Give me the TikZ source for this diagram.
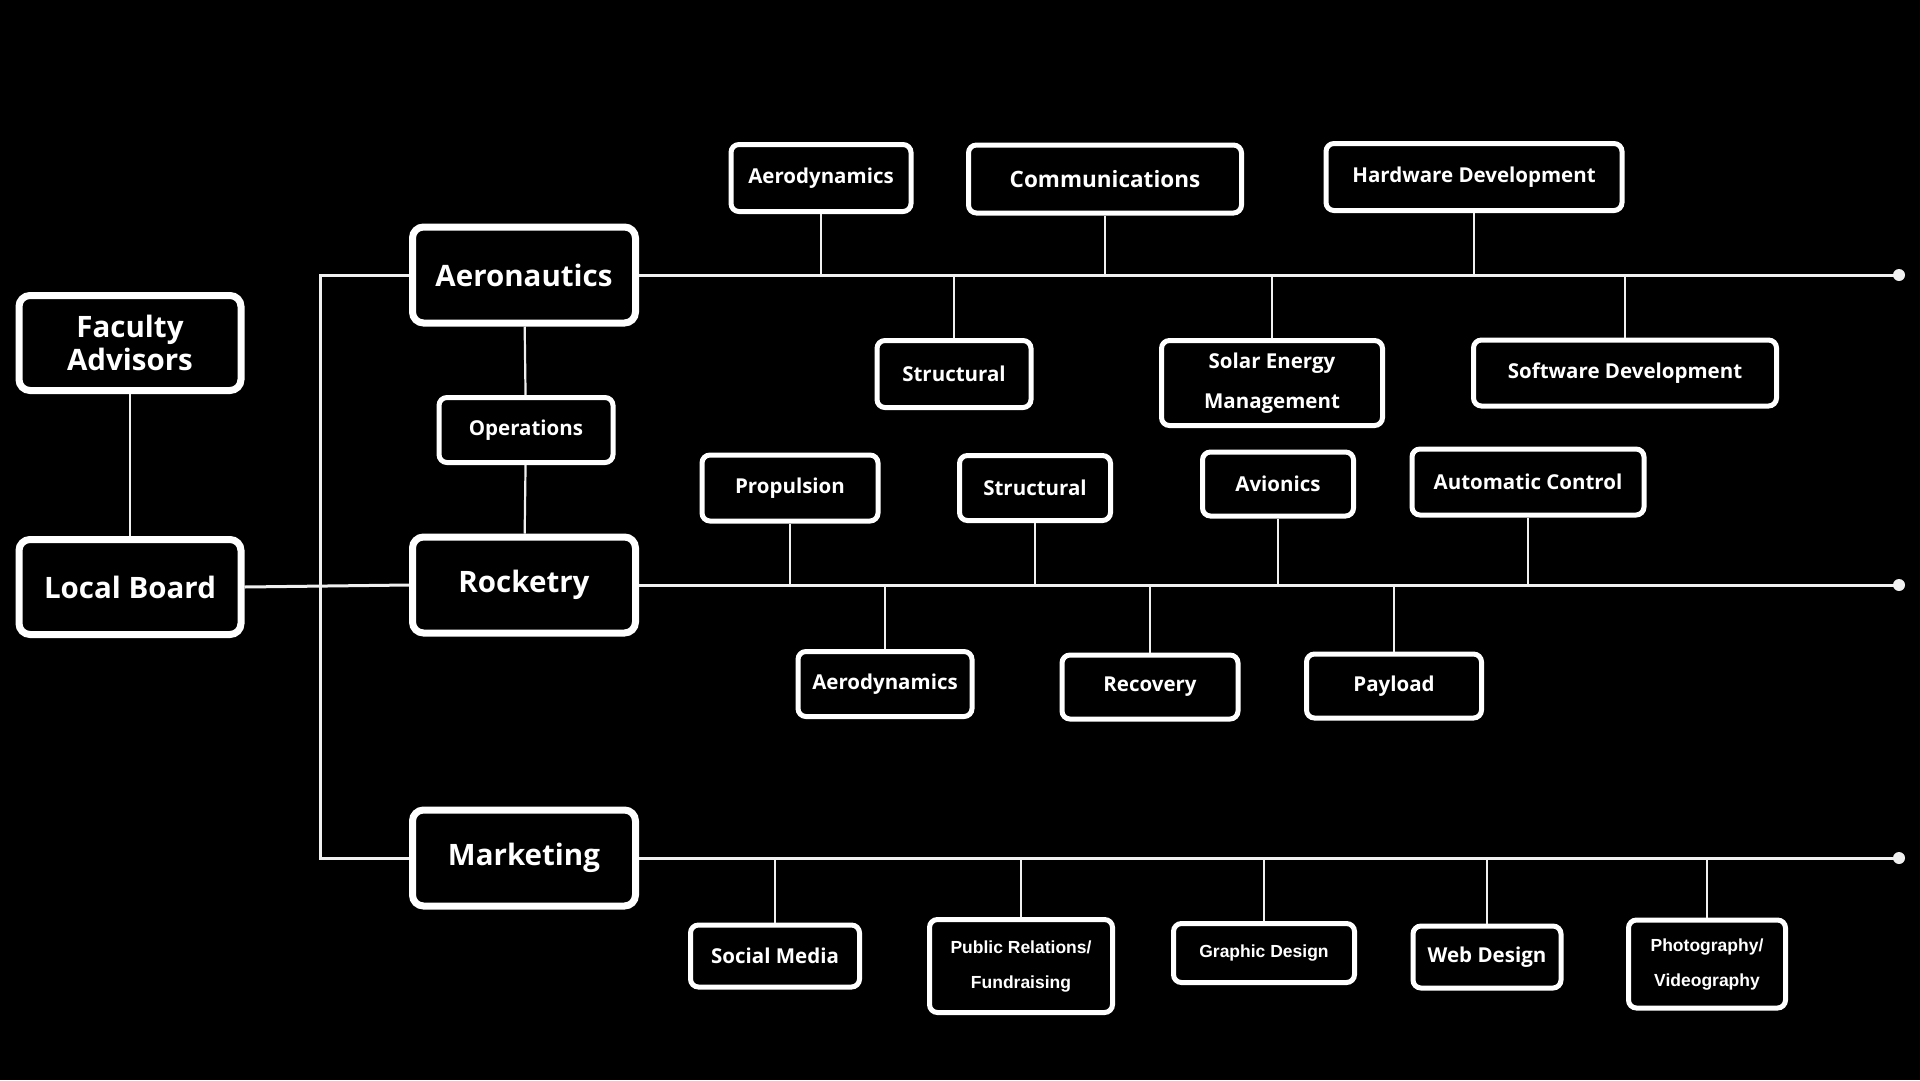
\documentclass[tikz,border=0pt]{standalone}
\usepackage{fontspec}
\setmainfont{Open Sans}
\newfontfamily\arialfont{Liberation Sans}
\usetikzlibrary{positioning,calc}
\definecolor{inkline}{RGB}{240,240,240}
\tikzset{
  unit/.style={draw=white,fill=black,text=white,line width=7pt,rounded corners=11pt,
               inner sep=0pt,align=center,font=\bfseries\fontsize{29.5}{33}\selectfont},
  sub/.style={draw=white,fill=black,text=white,line width=5pt,rounded corners=8pt,
              inner sep=0pt,align=center,font=\bfseries\fontsize{20.5}{40}\selectfont},
  subA/.style={sub,font=\arialfont\bfseries\fontsize{17.5}{35}\selectfont},
  bus/.style={draw=inkline,line width=3pt},
  stem/.style={draw=inkline,line width=2.2pt},
}
\begin{document}
\begin{tikzpicture}[x=1pt,y=-1pt]
  \fill[black] (0,0) rectangle (1920,1080);
  % ---------------- leadership ----------------
  \node[unit,minimum width=222,minimum height=95] (faculty) at (130,343) {Faculty\\Advisors};
  \node[unit,minimum width=222,minimum height=95] (board)   at (130,587) {Local Board};
  % ---------------- divisions ----------------
  \node[unit,minimum width=223,minimum height=96] (aero) at (524,275) {Aeronautics};
  \node[sub,minimum width=174,minimum height=65]  (ops)  at (526,430) {Operations};
  \node[unit,minimum width=223,minimum height=96] (rock) at (524,585) {Rocketry};
  \node[unit,minimum width=223,minimum height=96] (mkt)  at (524,858) {Marketing};
  % ---------------- aeronautics teams ----------------
  \node[sub,minimum width=180,minimum height=67] (aeroDyn)  at (821,178)  {Aerodynamics};
  \node[sub,minimum width=273,minimum height=68,font=\bfseries\fontsize{22.5}{26}\selectfont]
                                                 (aeroComm) at (1105,179) {Communications};
  \node[sub,minimum width=296,minimum height=67] (aeroHw)   at (1474,177) {Hardware Development};
  \node[sub,minimum width=154,minimum height=67] (aeroStr)  at (954,374)  {Structural};
  \node[sub,minimum width=221,minimum height=85] (aeroSol)  at (1272,383) {Solar Energy\\Management};
  \node[sub,minimum width=303,minimum height=66] (aeroSw)   at (1625,373) {Software Development};
  % ---------------- rocketry teams ----------------
  \node[sub,minimum width=176,minimum height=66] (rockProp) at (790,488)  {Propulsion};
  \node[sub,minimum width=151,minimum height=65] (rockStr)  at (1035,488) {Structural};
  \node[sub,minimum width=151,minimum height=64] (rockAvi)  at (1278,484) {Avionics};
  \node[sub,minimum width=232,minimum height=66] (rockCtl)  at (1528,482) {Automatic Control};
  \node[sub,minimum width=174,minimum height=65] (rockDyn)  at (885,684)  {Aerodynamics};
  \node[sub,minimum width=176,minimum height=64] (rockRec)  at (1150,687) {Recovery};
  \node[sub,minimum width=175,minimum height=64] (rockPay)  at (1394,686) {Payload};
  % ---------------- marketing teams ----------------
  \node[sub,minimum width=169,minimum height=62]  (mktSoc)   at (775,956)  {Social Media};
  \node[subA,minimum width=183,minimum height=93] (mktPr)    at (1021,966) {Public Relations/\\Fundraising};
  \node[subA,minimum width=181,minimum height=59] (mktGfx)   at (1264,953) {Graphic Design};
  \node[sub,minimum width=148,minimum height=62]  (mktWeb)   at (1487,957) {Web Design};
  \node[subA,minimum width=157,minimum height=88] (mktPhoto) at (1707,964) {Photography/\\Videography};
  % ---------------- bus ends ----------------
  \coordinate (aeroEnd) at (1899,275);
  \coordinate (rockEnd) at (1899,585);
  \coordinate (mktEnd)  at (1899,858);
  \coordinate (spineTop) at (320,275);
  \coordinate (spineBot) at (320,858);
  % ---------------- trunk ----------------
  \draw[stem] (faculty) -- (board);
  \draw[bus] (board.east) -- (rock.west);
  \draw[bus] (aero.west) -- (spineTop) -- (spineBot) -- (mkt.west);
  \draw[stem] (aero) -- (ops);
  \draw[stem] (ops) -- (rock);
  \draw[bus] (aero.east) -- (aeroEnd);
  \draw[bus] (rock.east) -- (rockEnd);
  \draw[bus] (mkt.east)  -- (mktEnd);
  \foreach \e in {aeroEnd,rockEnd,mktEnd}{
    \fill[inkline] (\e) circle (6);}
  % ---------------- stems ----------------
  \foreach \n in {aeroDyn,aeroComm,aeroHw}{
    \draw[stem] (\n.south) -- (\n.south |- aeroEnd);}
  \foreach \n in {aeroStr,aeroSol,aeroSw}{
    \draw[stem] (\n.north) -- (\n.north |- aeroEnd);}
  \foreach \n in {rockProp,rockStr,rockAvi,rockCtl}{
    \draw[stem] (\n.south) -- (\n.south |- rockEnd);}
  \foreach \n in {rockDyn,rockRec,rockPay}{
    \draw[stem] (\n.north) -- (\n.north |- rockEnd);}
  \foreach \n in {mktSoc,mktPr,mktGfx,mktWeb,mktPhoto}{
    \draw[stem] (\n.north) -- (\n.north |- mktEnd);}
\end{tikzpicture}
\end{document}
